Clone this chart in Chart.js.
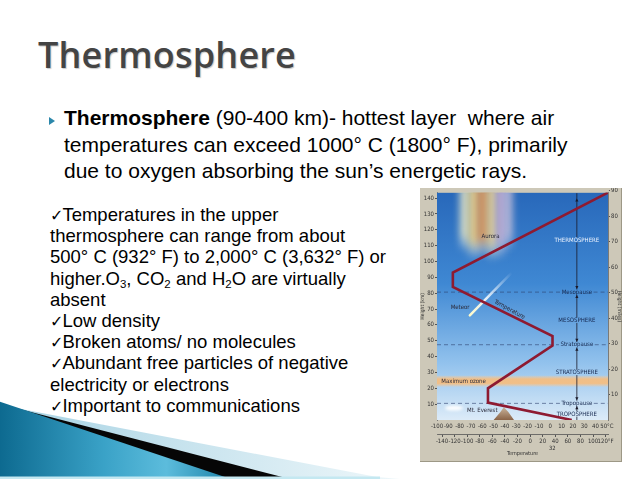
<!DOCTYPE html>
<html>
<head>
<meta charset="utf-8">
<script src="https://cdn.jsdelivr.net/npm/chart.js@4.4.0/dist/chart.umd.min.js"></script>
<style>
  html, body { margin: 0; padding: 0; background: #fff; }
  body { width: 638px; height: 479px; position: relative; overflow: hidden;
         font-family: 'Liberation Sans', Arial, sans-serif; color: #000; }
  #deco { position: absolute; left: 0; top: 0; }
  #title { position: absolute; left: 38px; top: 37px; font: 600 36px/1 'Open Sans', sans-serif;
           color: #444; letter-spacing: 0.2px; text-shadow: 1px 1px 1px rgba(0,0,0,.22); }
  #bullet { position: absolute; left: 49px; top: 117px; width: 0; height: 0;
            border-left: 6px solid #2b87aa; border-top: 4px solid transparent; border-bottom: 4px solid transparent; }
  #lead { position: absolute; left: 64px; top: 105px; font-size: 21px; line-height: 26.7px; white-space: nowrap; }
  #notes { position: absolute; left: 50px; top: 204px; font-size: 18.5px; line-height: 21.2px; white-space: nowrap; }
  .ck { font-family: 'DejaVu Sans', sans-serif; font-size: 16px; line-height: 0; letter-spacing: -1px; }
  sub { font-size: 0.62em; line-height: 0; vertical-align: -0.28em; }
  #frame { position: absolute; left: 420px; top: 188px; width: 201px; height: 273px;
           background: #cdc8b8; border-right: 1px solid #9d9886; border-bottom: 1px solid #9d9886; }
  #chartBox { position: absolute; left: 420px; top: 188px; width: 202px; height: 274px; }
</style>
</head>
<body>
<svg id="deco" width="638" height="479">
  <defs>
    <linearGradient id="blueG" x1="0" y1="0" x2="1" y2="0">
      <stop offset="0" stop-color="#0d6a90"/>
      <stop offset="0.45" stop-color="#3aa2c7"/>
      <stop offset="0.72" stop-color="#5cbcdc"/>
      <stop offset="1" stop-color="#1c82a8"/>
    </linearGradient>
    <linearGradient id="lightG" x1="0" y1="0" x2="1" y2="0">
      <stop offset="0" stop-color="#a6d2e3"/>
      <stop offset="1" stop-color="#eef7fa"/>
    </linearGradient>
  </defs>
  <polygon points="0,405 377,477 400,479 0,479" fill="url(#lightG)"/>
  <polygon points="0,404 290,479 0,479" fill="#060606"/>
  <polygon points="0,401.7 231,479 0,479" fill="url(#blueG)"/>
  <rect x="0" y="476.5" width="380" height="3" fill="#c4e8f1"/>
</svg>

<div id="title">Thermosphere</div>
<div id="bullet"></div>
<div id="lead"><b>Thermosphere</b> (90-400 km)- hottest layer&nbsp; where air<br>temperatures can exceed 1000° C (1800° F), primarily<br>due to oxygen absorbing the sun’s energetic rays.</div>
<div id="notes"><span class="ck">✓</span>Temperatures in the upper<br>thermosphere can range from about<br>500° C (932° F) to 2,000° C (3,632° F) or<br>higher.O<sub>3</sub>, CO<sub>2</sub> and H<sub>2</sub>O are virtually<br>absent<br><span class="ck">✓</span>Low density<br><span class="ck">✓</span>Broken atoms/ no molecules<br><span class="ck">✓</span>Abundant free particles of negative<br>electricity or electrons<br><span class="ck">✓</span>Important to communications</div>

<div id="frame"></div>
<div id="chartBox"><canvas id="atmo"></canvas></div>

<script>
// temperature profile (°C against km)
const tempC    = [19, -55, -55, 2, 2, -86, -86, 51];
const heightKm = [0, 11, 20, 47, 53, 84, 93, 143.5];

// axis ticks
const celsiusTicks    = [-100, -90, -80, -70, -60, -50, -40, -30, -20, -10, 0, 10, 20, 30, 40, 50];
const fahrenheitTicks = [-140, -120, -100, -80, -60, -40, -20, 0, 20, 40, 60, 80, 100, 120];
const kmTicks   = [10, 20, 30, 40, 50, 60, 70, 80, 90, 100, 110, 120, 130, 140];
const mileTicks = [10, 20, 30, 40, 50, 60, 70, 80, 90];

// layers and boundaries
const pauseNames = ['Tropopause', 'Stratopause', 'Mesopause'];
const pauseKm    = [10.5, 47.5, 80.7];
const layerNames = ['TROPOSPHERE', 'STRATOSPHERE', 'MESOSPHERE', 'THERMOSPHERE'];
const layerKm    = [3.8, 30, 62.9, 113.6];
const ozoneKm    = [21, 28];

const xMin = -100, xMax = 51, yMax = 143.5;
const kmPerMile = 1.609;
const labelC = 23.5;
const toF = c => c * 9 / 5 + 32;

const narrow = "'Liberation Sans Narrow', 'DejaVu Sans Condensed', Arial, sans-serif";
const tickFont = { family: narrow, size: 6 };
const inkColor = '#333';

// sky, aurora, ozone, pauses, meteor ... drawn under the curve
const scenery = {
  id: 'scenery',
  beforeDatasetsDraw(chart) {
    const { ctx, chartArea: a, scales: { x, y } } = chart;
    const px = v => x.getPixelForValue(v), py = v => y.getPixelForValue(v);
    ctx.save();
    ctx.beginPath();
    ctx.rect(a.left, a.top, a.width, a.height);
    ctx.clip();

    const sky = ctx.createLinearGradient(0, a.top, 0, a.bottom);
    sky.addColorStop(0, '#2868ba');
    sky.addColorStop(0.4, '#3f88d3');
    sky.addColorStop(0.75, '#92c2ed');
    sky.addColorStop(1, '#dcebf8');
    ctx.fillStyle = sky;
    ctx.fillRect(a.left, a.top, a.width, a.height);

    // aurora curtains
    ctx.filter = 'blur(3.5px)';
    const curtains = [
      [-80, -71, 106, 'rgba(240,238,205,0.8)'],
      [-73, -62, 101, 'rgba(240,215,140,0.85)'],
      [-65, -53, 103, 'rgba(232,150,80,0.8)'],
      [-56, -46, 100, 'rgba(245,220,150,0.8)'],
      [-48, -39, 102, 'rgba(205,175,215,0.8)'],
      [-41, -33, 107, 'rgba(230,210,225,0.65)']
    ];
    curtains.forEach(([c0, c1, h0, col]) => {
      const g = ctx.createLinearGradient(0, py(h0), 0, a.top);
      g.addColorStop(0, 'rgba(255,255,255,0)');
      g.addColorStop(0.3, col);
      g.addColorStop(1, col);
      ctx.fillStyle = g;
      ctx.fillRect(px(c0), a.top - 6, px(c1) - px(c0), py(h0) - a.top + 6);
    });

    // cloud near the ground
    ctx.filter = 'blur(1.5px)';
    ctx.fillStyle = 'rgba(255,255,255,0.95)';
    ctx.beginPath();
    ctx.ellipse(px(-85), py(7.5), 9, 2.5, 0, 0, Math.PI * 2);
    ctx.fill();
    ctx.filter = 'none';

    // maximum ozone band
    const oz = ctx.createLinearGradient(0, py(ozoneKm[1]), 0, py(ozoneKm[0]));
    oz.addColorStop(0, 'rgba(246,200,150,0.2)');
    oz.addColorStop(0.3, 'rgba(244,190,130,0.95)');
    oz.addColorStop(0.7, 'rgba(244,190,130,0.95)');
    oz.addColorStop(1, 'rgba(246,200,150,0.2)');
    ctx.fillStyle = oz;
    ctx.fillRect(a.left, py(ozoneKm[1]), a.width, py(ozoneKm[0]) - py(ozoneKm[1]));

    // boundaries, broken where the labels sit
    ctx.font = '6px ' + narrow;
    const lx = px(labelC);
    ctx.strokeStyle = 'rgba(45,65,110,0.75)';
    ctx.lineWidth = 0.8;
    ctx.setLineDash([4, 3]);
    pauseKm.forEach((h, i) => {
      const half = ctx.measureText(pauseNames[i]).width / 2 + 1.5;
      ctx.beginPath();
      ctx.moveTo(a.left, py(h));
      ctx.lineTo(lx - half, py(h));
      ctx.moveTo(lx + half, py(h));
      ctx.lineTo(a.right, py(h));
      ctx.stroke();
    });
    ctx.setLineDash([]);

    // meteor streak
    const m = ctx.createLinearGradient(px(-71), py(66), px(-34), py(93));
    m.addColorStop(0, 'rgba(255,250,200,1)');
    m.addColorStop(0.4, 'rgba(255,255,255,0.85)');
    m.addColorStop(1, 'rgba(255,255,255,0)');
    ctx.strokeStyle = m;
    ctx.lineWidth = 2.5;
    ctx.lineCap = 'round';
    ctx.beginPath();
    ctx.moveTo(px(-71), py(66));
    ctx.lineTo(px(-34), py(93));
    ctx.stroke();

    // Mt. Everest
    const rock = ctx.createLinearGradient(0, py(8), 0, py(0));
    rock.addColorStop(0, '#c9b39a');
    rock.addColorStop(1, '#8a6448');
    ctx.fillStyle = rock;
    ctx.beginPath();
    ctx.moveTo(px(-50), py(0));
    ctx.lineTo(px(-44), py(5));
    ctx.lineTo(px(-41), py(8));
    ctx.lineTo(px(-37), py(5));
    ctx.lineTo(px(-32), py(0));
    ctx.closePath();
    ctx.fill();

    // vertical scale line with arrows
    const marks = pauseKm.map(h => ({ h, arrow: true }))
      .concat(layerKm.map(h => ({ h, arrow: false })))
      .sort((p, q) => p.h - q.h);
    ctx.strokeStyle = '#1a1a2a';
    ctx.fillStyle = '#1a1a2a';
    ctx.lineWidth = 0.8;
    const gap = 3;
    let from = a.bottom, fromArrow = false;
    const arrowHead = (yy, dir) => {
      ctx.beginPath();
      ctx.moveTo(lx, yy);
      ctx.lineTo(lx - 1.6, yy - dir * 3);
      ctx.lineTo(lx + 1.6, yy - dir * 3);
      ctx.closePath();
      ctx.fill();
    };
    marks.concat([{ h: yMax, arrow: false, end: true }]).forEach(mk => {
      const yy = mk.end ? a.top + 1 : py(mk.h) + gap;
      if (yy < from - 1) {
        ctx.beginPath();
        ctx.moveTo(lx, from);
        ctx.lineTo(lx, yy);
        ctx.stroke();
        if (mk.arrow) arrowHead(yy, -1);
        if (fromArrow) arrowHead(from, 1);
        if (mk.end) arrowHead(a.top + 6, -1);
      }
      from = mk.end ? from : py(mk.h) - gap;
      fromArrow = mk.arrow;
    });
    ctx.restore();
  }
};

// text drawn over the curve
const captions = {
  id: 'captions',
  afterDatasetsDraw(chart) {
    const { ctx, scales: { x, y } } = chart;
    const px = v => x.getPixelForValue(v), py = v => y.getPixelForValue(v);
    ctx.save();
    ctx.textAlign = 'center';
    ctx.textBaseline = 'middle';
    ctx.font = '6px ' + narrow;

    layerNames.forEach((name, i) => {
      ctx.fillStyle = i === 3 ? '#eef4ff' : '#14264d';
      ctx.fillText(name, px(labelC), py(layerKm[i]));
    });
    ctx.fillStyle = '#14264d';
    pauseNames.forEach((name, i) => ctx.fillText(name, px(labelC), py(pauseKm[i])));

    ctx.fillStyle = '#2a2a3a';
    ctx.fillText('Aurora', px(-52.8), py(116));
    ctx.fillText('Meteor', px(-79.6), py(71.3));
    ctx.fillText('Maximum ozone', px(-76.5), py(24.5));
    ctx.fillText('Mt. Everest', px(-60), py(5.9));

    ctx.save();
    ctx.translate(px(-36), py(69.7));
    ctx.rotate(29 * Math.PI / 180);
    ctx.fillText('Temperature', 0, 0);
    ctx.restore();

    // freezing point under the Fahrenheit row
    const f = chart.scales.x2;
    ctx.font = '5.8px ' + narrow;
    ctx.fillStyle = inkColor;
    ctx.fillText('32', f.getPixelForValue(32) + 2, f.top + 14);
    ctx.restore();
  }
};

new Chart(document.getElementById('atmo'), {
  type: 'line',
  data: {
    datasets: [{
      data: tempC.map((t, i) => ({ x: t, y: heightKm[i] })),
      borderColor: '#8e1a31',
      borderWidth: 2.6,
      pointRadius: 0,
      fill: false,
      tension: 0
    }]
  },
  options: {
    responsive: true,
    maintainAspectRatio: false,
    animation: false,
    layout: { padding: { top: 4, left: 0, right: 0, bottom: 0 } },
    plugins: { legend: { display: false }, tooltip: { enabled: false } },
    scales: {
      x: {
        type: 'linear', position: 'bottom', weight: 0, min: xMin, max: xMax,
        afterBuildTicks: s => { s.ticks = celsiusTicks.map(v => ({ value: v })); },
        ticks: { callback: v => v === 50 ? '50°C' : v, font: tickFont, color: inkColor,
                 padding: 3, maxRotation: 0, autoSkip: false },
        grid: { display: true, drawOnChartArea: false, drawTicks: false },
        border: { display: false },
        afterFit: s => { s.height = 14; }
      },
      x2: {
        type: 'linear', position: 'bottom', weight: 1, min: toF(xMin), max: toF(xMax),
        afterBuildTicks: s => { s.ticks = fahrenheitTicks.map(v => ({ value: v })); },
        ticks: { callback: v => v === 120 ? '120°F' : v, font: tickFont, color: inkColor,
                 padding: 1, maxRotation: 0, autoSkip: false },
        grid: { drawOnChartArea: false, tickLength: 3, color: '#555' },
        border: { display: true, color: '#555', width: 0.8 },
        title: { display: true, text: 'Temperature', font: { family: narrow, size: 5.5 }, color: inkColor,
                 padding: { top: 0, bottom: 5 } },
        afterFit: s => { s.height = 28; }
      },
      y: {
        type: 'linear', position: 'left', min: 0, max: yMax,
        afterBuildTicks: s => { s.ticks = kmTicks.map(v => ({ value: v })); },
        ticks: { font: tickFont, color: inkColor, padding: 1, autoSkip: false },
        grid: { drawOnChartArea: false, tickLength: 2, color: '#555' },
        border: { display: true, color: '#666', width: 0.8 },
        title: { display: true, text: 'Height (km)', font: { family: narrow, size: 5 }, color: inkColor,
                 padding: 0 },
        afterFit: s => { s.width = 17; }
      },
      y2: {
        type: 'linear', position: 'right', min: 0, max: yMax / kmPerMile,
        afterBuildTicks: s => { s.ticks = mileTicks.map(v => ({ value: v })); },
        ticks: { font: tickFont, color: inkColor, padding: 1, autoSkip: false },
        grid: { drawOnChartArea: false, tickLength: 2, color: '#555' },
        border: { display: true, color: '#666', width: 0.8 },
        title: { display: true, text: 'Height (miles)', font: { family: narrow, size: 5 }, color: inkColor,
                 padding: 0 },
        afterFit: s => { s.width = 14; }
      }
    }
  },
  plugins: [scenery, captions]
});
</script>
</body>
</html>
